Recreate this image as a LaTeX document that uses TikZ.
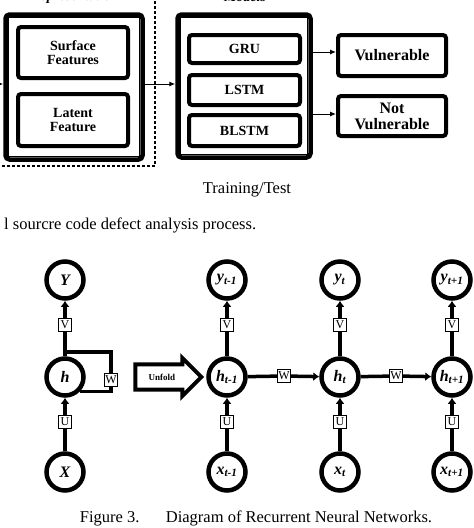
\documentclass[tikz,border=0pt]{standalone}
\usepackage{fontspec}
\setmainfont{Liberation Serif}
\usetikzlibrary{arrows.meta,shapes.arrows}
\begin{document}
\begin{tikzpicture}[x=1pt,y=-1pt,
  bigbox/.style={draw,line width=4.5pt,rounded corners=4pt,inner sep=0pt},
  inbox/.style={draw,line width=4pt,rounded corners=3pt,inner sep=0pt,align=center,
    font=\bfseries\fontsize{14}{14.5}\selectfont},
  outbox/.style={draw,line width=4pt,rounded corners=3pt,inner sep=0pt,align=center,
    font=\bfseries\fontsize{16}{16}\selectfont},
  title/.style={font=\bfseries\itshape\fontsize{14}{14}\selectfont},
  flow/.style={line width=1pt,-{Latex[length=6pt,width=5pt]}},
  cell/.style={circle,draw,line width=4.5pt,minimum size=37pt,inner sep=0pt,
    font=\bfseries\itshape\fontsize{16}{16}\selectfont},
  wgt/.style={draw,line width=1pt,fill=white,minimum size=13pt,inner sep=0pt,
    font=\fontsize{12}{12}\selectfont},
  conn/.style={line width=3.5pt},
  arr/.style={line width=3.5pt,-{Latex[length=6pt,width=9pt]}},
  txt/.style={font=\fontsize{16.5}{16.5}\selectfont}
]
\useasboundingbox (0,0) rectangle (474,528);
\fill[white] (0,0) rectangle (474,528);

% ---------- top: analysis process ----------
\draw[densely dashed,line width=2pt] (-6,-6) rectangle (155,166);
\node[title] (reptitle) at (75,-3) {Representation};
\node[title] (modtitle) at (245,-3) {Models};

\node[bigbox,minimum width=137pt,minimum height=145pt] (rep) at (74,87) {};
\draw[line width=0.8pt] ([shift={(5,5)}]rep.north west) rectangle ([shift={(-5,-5)}]rep.south east);
\node[inbox,minimum width=110pt,minimum height=51pt] (surf) at (73,52.5) {Surface\\Features};
\node[inbox,minimum width=110pt,minimum height=52pt] (lat) at (73,120) {Latent\\Feature};

\node[bigbox,minimum width=133pt,minimum height=143pt] (mod) at (244,86) {};
\draw[line width=0.8pt] ([shift={(5,5)}]mod.north west) rectangle ([shift={(-5,-5)}]mod.south east);
\node[inbox,minimum width=111pt,minimum height=28pt] (gru) at (244.5,49) {GRU};
\node[inbox,minimum width=111pt,minimum height=30pt] (lstm) at (244.5,90) {LSTM};
\node[inbox,minimum width=111pt,minimum height=31pt] (blstm) at (244.5,130.5) {BLSTM};

\node[outbox,minimum width=108pt,minimum height=41pt] (vul) at (392,55.5) {Vulnerable};
\node[outbox,minimum width=108pt,minimum height=40pt] (nvul) at (392,116) {Not\\Vulnerable};

\coordinate (inp) at (-10,84);
\draw[flow] (inp) -- (inp -| rep.west);
\draw[flow] (rep.east |- 0,84) -- (mod.west |- 0,84);
\draw[flow] (mod.east |- 0,52) -- (vul.west |- 0,52);
\draw[flow] (mod.east |- 0,114) -- (nvul.west |- 0,114);

\node[txt] (train) at (247,190) {Training/Test};
\node[txt,anchor=west,inner sep=0pt] (cap1) at (4,225) {l sourcre code defect analysis process.};

% ---------- bottom: RNN ----------
\node[cell] (Y) at (65,280) {Y};
\node[cell] (H) at (65,377) {h};
\node[cell] (X) at (65,472) {X};
\node[wgt] (V0) at (65,325) {V};
\node[wgt] (U0) at (65,422) {U};
\node[wgt] (W0) at (111,380) {W};

\draw[conn] (X) -- (U0);
\draw[arr] (U0) -- (H);
\draw[conn] (H) -- (V0);
\draw[arr] (V0) -- (Y);
\coordinate (lt) at (65,352);
\draw[conn] (lt) -| (W0);
\draw[conn] (W0) |- (H.south east);

\node[single arrow,draw,line width=4pt,minimum height=66pt,minimum width=38pt,
  single arrow head extend=6pt,inner xsep=3pt,inner ysep=7pt,
  font=\bfseries\fontsize{9}{9}\selectfont] (unf) at (162,377) {Unfold};

\foreach \n/\x/\s in {a/227/t-1, b/340/t, c/452/t+1}{
  \node[cell] (y\n) at (\x,280) {y\textsubscript{\s}};
  \node[cell] (h\n) at (\x,377) {h\textsubscript{\s}};
  \node[cell] (x\n) at (\x,472) {x\textsubscript{\s}};
  \node[wgt] (v\n) at (\x,325) {V};
  \node[wgt] (u\n) at (\x,422) {U};
  \draw[conn] (x\n) -- (u\n);
  \draw[arr] (u\n) -- (h\n);
  \draw[conn] (h\n) -- (v\n);
  \draw[arr] (v\n) -- (y\n);
}
\node[wgt] (w1) at (284,376) {W};
\node[wgt] (w2) at (396,376) {W};
\draw[conn] (ha) -- (w1);
\draw[arr] (w1) -- (hb);
\draw[conn] (hb) -- (w2);
\draw[arr] (w2) -- (hc);

\node[txt] (cap2) at (256,518) {Figure 3.\hspace{1.6em}Diagram of Recurrent Neural Networks.};
\end{tikzpicture}
\end{document}
